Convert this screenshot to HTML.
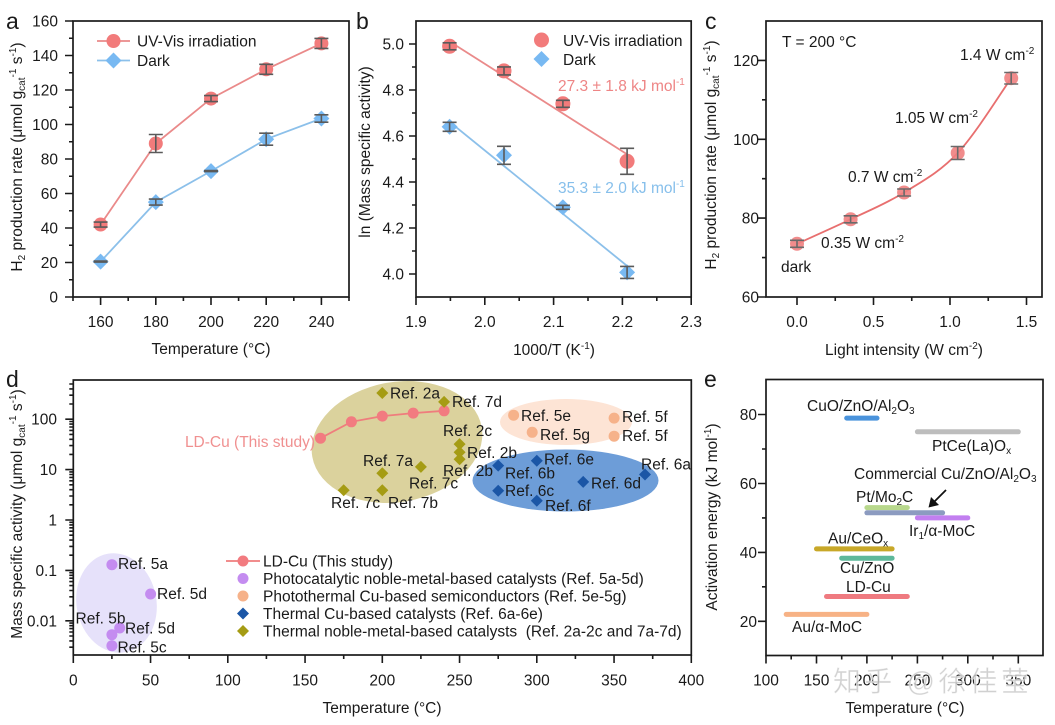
<!DOCTYPE html>
<html><head><meta charset="utf-8"><style>
html,body{margin:0;padding:0;background:#fff;}
svg{display:block;}
</style></head><body>
<svg width="1055" height="725" viewBox="0 0 1055 725" xmlns="http://www.w3.org/2000/svg" font-family="'Liberation Sans', Arial, sans-serif" font-size="15.5" fill="#1a1a1a">
<rect width="1055" height="725" fill="#fff"/>
<defs>
<clipPath id="cd"><rect x="73.3" y="380" width="618" height="275"/></clipPath>
</defs>

<!-- ================= Panel a ================= -->
<text x="6" y="29" font-size="23">a</text>
<polyline points="100.6,224.55 155.8,143.5 211,98.6 266.2,69.3 321.4,43.4" fill="none" stroke="#ea8a8a" stroke-width="1.8"/>
<polyline points="100.6,261.6 155.8,202.1 211,171.1 266.2,139.2 321.4,118.5" fill="none" stroke="#8cc0ea" stroke-width="1.8"/>
<g fill="#f27b7b">
<circle cx="100.6" cy="224.55" r="7"/><circle cx="155.8" cy="143.5" r="7"/><circle cx="211" cy="98.6" r="7"/><circle cx="266.2" cy="69.3" r="7"/><circle cx="321.4" cy="43.4" r="7"/>
</g>
<g fill="#78b9f2">
<polygon points="100.6,253.6 108.6,261.6 100.6,269.6 92.6,261.6"/>
<polygon points="155.8,194.1 163.8,202.1 155.8,210.1 147.8,202.1"/>
<polygon points="211,163.1 219,171.1 211,179.1 203,171.1"/>
<polygon points="266.2,131.2 274.2,139.2 266.2,147.2 258.2,139.2"/>
<polygon points="321.4,110.5 329.4,118.5 321.4,126.5 313.4,118.5"/>
</g>
<path d="M93.6 222.05H107.6M100.6 222.05V227.05M93.6 227.05H107.6M148.8 134.5H162.8M155.8 134.5V152.5M148.8 152.5H162.8M204 95.6H218M211 95.6V101.6M204 101.6H218M259.2 64.3H273.2M266.2 64.3V74.3M259.2 74.3H273.2M314.4 38.4H328.4M321.4 38.4V48.4M314.4 48.4H328.4M93.6 261.1H107.6M93.6 262.1H107.6M148.8 199.1H162.8M155.8 199.1V205.1M148.8 205.1H162.8M204 170.6H218M204 171.6H218M259.2 133.2H273.2M266.2 133.2V145.2M259.2 145.2H273.2M314.4 114.8H328.4M321.4 114.8V122.2M314.4 122.2H328.4" stroke="#5a5a5a" stroke-width="1.6" fill="none"/>
<!-- legend a -->
<line x1="97" y1="41" x2="130" y2="41" stroke="#ea8a8a" stroke-width="1.8"/>
<circle cx="113.5" cy="41" r="7" fill="#f27b7b"/>
<line x1="97" y1="60.5" x2="130" y2="60.5" stroke="#8cc0ea" stroke-width="1.8"/>
<polygon points="113.5,52.5 121.5,60.5 113.5,68.5 105.5,60.5" fill="#78b9f2"/>
<text x="137" y="46.5">UV-Vis irradiation</text>
<text x="137" y="66">Dark</text>
<!-- axes a -->
<rect x="73" y="21" width="276" height="276" fill="none" stroke="#1a1a1a" stroke-width="1.7"/>
<path d="M65 297H73M65 262.5H73M65 228H73M65 193.5H73M65 159H73M65 124.5H73M65 90H73M65 55.5H73M65 21H73M69 279.75H73M69 245.25H73M69 210.75H73M69 176.25H73M69 141.75H73M69 107.25H73M69 72.75H73M69 38.25H73M100.6 297V305M155.8 297V305M211 297V305M266.2 297V305M321.4 297V305M73 297V301M128.2 297V301M183.4 297V301M238.6 297V301M293.8 297V301M349 297V301" stroke="#1a1a1a" stroke-width="1.6"/>
<g text-anchor="end">
<text x="58" y="302.5">0</text><text x="58" y="268">20</text><text x="58" y="233.5">40</text><text x="58" y="199">60</text><text x="58" y="164.5">80</text><text x="58" y="130">100</text><text x="58" y="95.5">120</text><text x="58" y="61">140</text><text x="58" y="26.5">160</text>
</g>
<g text-anchor="middle">
<text x="100.6" y="327">160</text><text x="155.8" y="327">180</text><text x="211" y="327">200</text><text x="266.2" y="327">220</text><text x="321.4" y="327">240</text>
<text x="211" y="354">Temperature (°C)</text>
</g>
<text transform="translate(22,157) rotate(-90)" text-anchor="middle">H<tspan font-size="10" dy="3">2</tspan><tspan dy="-3"> production rate (μmol g</tspan><tspan font-size="10" dy="3">cat</tspan><tspan font-size="10" dy="-9">-1</tspan><tspan dy="6"> s</tspan><tspan font-size="10" dy="-6">-1</tspan><tspan dy="6">)</tspan></text>

<!-- ================= Panel b ================= -->
<text x="356" y="29" font-size="23">b</text>
<line x1="450" y1="41.7" x2="627.2" y2="154.4" stroke="#ea8a8a" stroke-width="1.8"/>
<line x1="450" y1="122.2" x2="627.2" y2="266" stroke="#8cc0ea" stroke-width="1.8"/>
<g fill="#f27b7b">
<circle cx="449.6" cy="46.3" r="7.5"/><circle cx="504" cy="70.9" r="7.5"/><circle cx="562.9" cy="103.8" r="7.5"/><circle cx="627.1" cy="161.3" r="7.5"/>
</g>
<g fill="#78b9f2">
<polygon points="449.6,118.8 457.6,126.8 449.6,134.8 441.6,126.8"/>
<polygon points="504,147.3 512,155.3 504,163.3 496,155.3"/>
<polygon points="562.9,199.3 570.9,207.3 562.9,215.3 554.9,207.3"/>
<polygon points="627.1,264.4 635.1,272.4 627.1,280.4 619.1,272.4"/>
</g>
<path d="M442.6 42.8H456.6M449.6 42.8V49.8M442.6 49.8H456.6M497 66.9H511M504 66.9V74.9M497 74.9H511M555.9 100.3H569.9M562.9 100.3V107.3M555.9 107.3H569.9M620.1 148.3H634.1M627.1 148.3V174.3M620.1 174.3H634.1M442.6 122.3H456.6M449.6 122.3V131.3M442.6 131.3H456.6M497 146.3H511M504 146.3V164.3M497 164.3H511M555.9 205.3H569.9M562.9 205.3V209.3M555.9 209.3H569.9M620.1 266.4H634.1M627.1 266.4V278.4M620.1 278.4H634.1" stroke="#5a5a5a" stroke-width="1.6" fill="none"/>
<circle cx="541.5" cy="40" r="7.5" fill="#f27b7b"/>
<polygon points="541.5,51 549.5,59 541.5,67 533.5,59" fill="#78b9f2"/>
<text x="563" y="46">UV-Vis irradiation</text>
<text x="563" y="65">Dark</text>
<text x="558" y="91" fill="#ee8585">27.3 ± 1.8 kJ mol<tspan font-size="10" dy="-6">-1</tspan></text>
<text x="558" y="193" fill="#86bfeb">35.3 ± 2.0 kJ mol<tspan font-size="10" dy="-6">-1</tspan></text>
<rect x="416" y="21" width="275.2" height="276" fill="none" stroke="#1a1a1a" stroke-width="1.7"/>
<path d="M409 274H416M409 228H416M409 182H416M409 136H416M409 90H416M409 44H416M412 251H416M412 205H416M412 159H416M412 113H416M412 67H416M416 297V305M484.8 297V305M553.6 297V305M622.4 297V305M691.2 297V305M450.4 297V301M519.2 297V301M588 297V301M656.8 297V301" stroke="#1a1a1a" stroke-width="1.6"/>
<g text-anchor="end">
<text x="404" y="279.5">4.0</text><text x="404" y="233.5">4.2</text><text x="404" y="187.5">4.4</text><text x="404" y="141.5">4.6</text><text x="404" y="95.5">4.8</text><text x="404" y="49.5">5.0</text>
</g>
<g text-anchor="middle">
<text x="416" y="327">1.9</text><text x="484.8" y="327">2.0</text><text x="553.6" y="327">2.1</text><text x="622.4" y="327">2.2</text><text x="691.2" y="327">2.3</text>
<text x="554" y="355">1000/T (K<tspan font-size="10" dy="-6">-1</tspan><tspan dy="6">)</tspan></text>
</g>
<text transform="translate(370,152) rotate(-90)" text-anchor="middle">ln (Mass specific activity)</text>

<!-- ================= Panel c ================= -->
<text x="705" y="29" font-size="23">c</text>
<path d="M797 243.8C805.9 239.7 832.75 227.85 850.6 219.3C868.45 210.75 886.25 203.55 904.1 192.5C921.95 181.45 939.85 172.05 957.7 153C975.55 133.95 1002.3 90.67 1011.2 78.2" fill="none" stroke="#e86f6f" stroke-width="1.8"/>
<g fill="#f08080" fill-opacity="0.9">
<circle cx="797" cy="243.8" r="7"/><circle cx="850.6" cy="219.3" r="7"/><circle cx="904.1" cy="192.5" r="7"/><circle cx="957.7" cy="153" r="7"/><circle cx="1011.2" cy="78.2" r="7"/>
</g>
<path d="M790 240.3H804M797 240.3V247.3M790 247.3H804M843.6 215.8H857.6M850.6 215.8V222.8M843.6 222.8H857.6M897.1 189H911.1M904.1 189V196M897.1 196H911.1M950.7 146.5H964.7M957.7 146.5V159.5M950.7 159.5H964.7M1004.2 72.5H1018.2M1011.2 72.5V84M1004.2 84H1018.2" stroke="#6a6a6a" stroke-width="1.6" fill="none"/>
<text x="782" y="47">T = 200 °C</text>
<text x="960" y="60">1.4 W cm<tspan font-size="10" dy="-6">-2</tspan></text>
<text x="895" y="123">1.05 W cm<tspan font-size="10" dy="-6">-2</tspan></text>
<text x="848" y="182">0.7 W cm<tspan font-size="10" dy="-6">-2</tspan></text>
<text x="821" y="248">0.35 W cm<tspan font-size="10" dy="-6">-2</tspan></text>
<text x="781" y="272">dark</text>
<rect x="766" y="21" width="276" height="276" fill="none" stroke="#1a1a1a" stroke-width="1.7"/>
<path d="M758 297H766M758 218.1H766M758 139.3H766M758 60.4H766M762 257.6H766M762 178.7H766M762 99.8H766M797 297V305M873.5 297V305M950 297V305M1026.5 297V305M835.25 297V301M911.75 297V301M988.25 297V301" stroke="#1a1a1a" stroke-width="1.6"/>
<g text-anchor="end">
<text x="759" y="302.5">60</text><text x="759" y="223.6">80</text><text x="759" y="144.8">100</text><text x="759" y="65.9">120</text>
</g>
<g text-anchor="middle">
<text x="797" y="327">0.0</text><text x="873.5" y="327">0.5</text><text x="950" y="327">1.0</text><text x="1026.5" y="327">1.5</text>
<text x="904" y="355">Light intensity (W cm<tspan font-size="10" dy="-6">-2</tspan><tspan dy="6">)</tspan></text>
</g>
<text transform="translate(716,155) rotate(-90)" text-anchor="middle">H<tspan font-size="10" dy="3">2</tspan><tspan dy="-3"> production rate (μmol g</tspan><tspan font-size="10" dy="3">cat</tspan><tspan font-size="10" dy="-9">-1</tspan><tspan dy="6"> s</tspan><tspan font-size="10" dy="-6">-1</tspan><tspan dy="6">)</tspan></text>

<!-- ================= Panel d ================= -->
<text x="6" y="387" font-size="23">d</text>
<g clip-path="url(#cd)">
<ellipse cx="397" cy="442" rx="86" ry="60" transform="rotate(-10 397 442)" fill="#dbd29d"/>
<ellipse cx="566" cy="422" rx="66" ry="23" fill="#fde4d5"/>
<ellipse cx="565.5" cy="480.5" rx="93" ry="31" fill="#6d9dd8"/>
<ellipse cx="116.5" cy="603" rx="40" ry="50" transform="rotate(-10 116.5 603)" fill="#e6e1fa"/>
</g>
<polyline points="320.5,438.2 351.4,421.8 382.3,416.1 413.2,413.1 444.1,410.8" fill="none" stroke="#ef7d7d" stroke-width="1.8"/>
<g fill="#f27b80">
<circle cx="320.5" cy="438.2" r="5.5"/><circle cx="351.4" cy="421.8" r="5.5"/><circle cx="382.3" cy="416.1" r="5.5"/><circle cx="413.2" cy="413.1" r="5.5"/><circle cx="444.1" cy="410.8" r="5.5"/>
</g>
<g fill="#c48cf0">
<circle cx="111.9" cy="564.7" r="5.5"/><circle cx="150.6" cy="594" r="5.5"/><circle cx="119.7" cy="628" r="5.5"/><circle cx="111.9" cy="634.7" r="5.5"/><circle cx="111.9" cy="645.7" r="5.5"/>
</g>
<g fill="#f6b28a">
<circle cx="513.6" cy="415.2" r="5.5"/><circle cx="532.2" cy="432.3" r="5.5"/><circle cx="614.1" cy="418.1" r="5.5"/><circle cx="614.1" cy="436.2" r="5.5"/>
</g>
<g fill="#1b56a6">
<polygon points="498.2,459.6 504.2,465.6 498.2,471.6 492.2,465.6"/>
<polygon points="536.8,454.7 542.8,460.7 536.8,466.7 530.8,460.7"/>
<polygon points="645,468.5 651,474.5 645,480.5 639,474.5"/>
<polygon points="583.2,475.9 589.2,481.9 583.2,487.9 577.2,481.9"/>
<polygon points="498.2,484.8 504.2,490.8 498.2,496.8 492.2,490.8"/>
<polygon points="536.8,494.8 542.8,500.8 536.8,506.8 530.8,500.8"/>
</g>
<g fill="#a59c14">
<polygon points="382.3,387 388.3,393 382.3,399 376.3,393"/>
<polygon points="444.1,395.9 450.1,401.9 444.1,407.9 438.1,401.9"/>
<polygon points="459.6,438.1 465.6,444.1 459.6,450.1 453.6,444.1"/>
<polygon points="459.6,446.3 465.6,452.3 459.6,458.3 453.6,452.3"/>
<polygon points="459.6,453.3 465.6,459.3 459.6,465.3 453.6,459.3"/>
<polygon points="382.3,467.2 388.3,473.2 382.3,479.2 376.3,473.2"/>
<polygon points="420.9,460.9 426.9,466.9 420.9,472.9 414.9,466.9"/>
<polygon points="382.3,484.2 388.3,490.2 382.3,496.2 376.3,490.2"/>
<polygon points="343.7,484.2 349.7,490.2 343.7,496.2 337.7,490.2"/>
</g>
<text x="315" y="447" text-anchor="end" fill="#f09090">LD-Cu (This study)</text>
<text x="118" y="569">Ref. 5a</text>
<text x="157" y="599">Ref. 5d</text>
<text x="125" y="633.5">Ref. 5d</text>
<text x="75.5" y="623.5">Ref. 5b</text>
<text x="117.5" y="652.5">Ref. 5c</text>
<text x="521" y="421">Ref. 5e</text>
<text x="540" y="440">Ref. 5g</text>
<text x="622" y="422">Ref. 5f</text>
<text x="622" y="441">Ref. 5f</text>
<text x="505" y="478.5">Ref. 6b</text>
<text x="544" y="464.5">Ref. 6e</text>
<text x="641" y="469.5">Ref. 6a</text>
<text x="591" y="488.5">Ref. 6d</text>
<text x="505" y="496">Ref. 6c</text>
<text x="545" y="511">Ref. 6f</text>
<text x="390" y="398.5">Ref. 2a</text>
<text x="452" y="407">Ref. 7d</text>
<text x="443" y="436">Ref. 2c</text>
<text x="467" y="458">Ref. 2b</text>
<text x="443" y="476">Ref. 2b</text>
<text x="363" y="466">Ref. 7a</text>
<text x="409" y="488.5">Ref. 7c</text>
<text x="388" y="508">Ref. 7b</text>
<text x="331" y="508">Ref. 7c</text>
<!-- legend d -->
<line x1="226" y1="561" x2="260" y2="561" stroke="#ef7d7d" stroke-width="1.8"/>
<circle cx="243" cy="561" r="5.5" fill="#f27b80"/>
<circle cx="243" cy="578.5" r="5.5" fill="#c48cf0"/>
<circle cx="243" cy="596" r="5.5" fill="#f6b28a"/>
<polygon points="243,607.5 249,613.5 243,619.5 237,613.5" fill="#1b56a6"/>
<polygon points="243,625 249,631 243,637 237,631" fill="#a59c14"/>
<text x="263" y="566.5">LD-Cu (This study)</text>
<text x="263" y="584">Photocatalytic noble-metal-based catalysts (Ref. 5a-5d)</text>
<text x="263" y="601.5">Photothermal Cu-based semiconductors (Ref. 5e-5g)</text>
<text x="263" y="619">Thermal Cu-based catalysts (Ref. 6a-6e)</text>
<text x="263" y="636.5" xml:space="preserve">Thermal noble-metal-based catalysts  (Ref. 2a-2c and 7a-7d)</text>
<!-- axes d -->
<rect x="73.3" y="380" width="618" height="275" fill="none" stroke="#1a1a1a" stroke-width="1.7"/>
<path d="M65.3 620.8H73.3M65.3 570.4H73.3M65.3 520H73.3M65.3 469.6H73.3M65.3 419.2H73.3M69.3 647.2H73.3M69.3 640.9H73.3M69.3 636H73.3M69.3 632H73.3M69.3 628.6H73.3M69.3 625.7H73.3M69.3 623.1H73.3M69.3 605.6H73.3M69.3 596.8H73.3M69.3 590.5H73.3M69.3 585.6H73.3M69.3 581.6H73.3M69.3 578.2H73.3M69.3 575.3H73.3M69.3 572.7H73.3M69.3 555.2H73.3M69.3 546.4H73.3M69.3 540.1H73.3M69.3 535.2H73.3M69.3 531.2H73.3M69.3 527.8H73.3M69.3 524.9H73.3M69.3 522.3H73.3M69.3 504.8H73.3M69.3 496H73.3M69.3 489.7H73.3M69.3 484.8H73.3M69.3 480.8H73.3M69.3 477.4H73.3M69.3 474.5H73.3M69.3 471.9H73.3M69.3 454.4H73.3M69.3 445.6H73.3M69.3 439.3H73.3M69.3 434.4H73.3M69.3 430.4H73.3M69.3 427H73.3M69.3 424.1H73.3M69.3 421.5H73.3M69.3 404H73.3M69.3 395.2H73.3M69.3 388.9H73.3M69.3 384H73.3M73.3 655V663M150.55 655V663M227.8 655V663M305.05 655V663M382.3 655V663M459.55 655V663M536.8 655V663M614.05 655V663M691.3 655V663M111.9 655V659M189.2 655V659M266.4 655V659M343.7 655V659M420.9 655V659M498.2 655V659M575.4 655V659M652.7 655V659" stroke="#1a1a1a" stroke-width="1.6"/>
<g text-anchor="end">
<text x="57" y="424.7">100</text><text x="57" y="475.1">10</text><text x="57" y="525.5">1</text><text x="57" y="575.9">0.1</text><text x="57" y="626.3">0.01</text>
</g>
<g text-anchor="middle">
<text x="73.3" y="685.5">0</text><text x="150.55" y="685.5">50</text><text x="227.8" y="685.5">100</text><text x="305.05" y="685.5">150</text><text x="382.3" y="685.5">200</text><text x="459.55" y="685.5">250</text><text x="536.8" y="685.5">300</text><text x="614.05" y="685.5">350</text><text x="691.3" y="685.5">400</text>
<text x="382" y="713">Temperature (°C)</text>
</g>
<text transform="translate(22,514) rotate(-90)" text-anchor="middle">Mass specific activity (μmol g<tspan font-size="10" dy="3">cat</tspan><tspan font-size="10" dy="-9">-1</tspan><tspan dy="6"> s</tspan><tspan font-size="10" dy="-6">-1</tspan><tspan dy="6">)</tspan></text>

<!-- ================= Panel e ================= -->
<text x="704" y="387" font-size="23">e</text>
<g stroke-width="5" stroke-linecap="round">
<line x1="846.7" y1="418.1" x2="877" y2="418.1" stroke="#4a93dc"/>
<line x1="917.4" y1="431.8" x2="1018.3" y2="431.8" stroke="#bdbdbd"/>
<line x1="866.9" y1="507.6" x2="907.3" y2="507.6" stroke="#b8d88c"/>
<line x1="866.9" y1="512.8" x2="942.6" y2="512.8" stroke="#8c9bc0"/>
<line x1="917.4" y1="517.9" x2="967.8" y2="517.9" stroke="#c27ff0"/>
<line x1="816.5" y1="548.9" x2="892.1" y2="548.9" stroke="#c8a828"/>
<line x1="841.7" y1="558.2" x2="892.1" y2="558.2" stroke="#5db89a"/>
<line x1="826.5" y1="596.5" x2="907.3" y2="596.5" stroke="#ef7a80"/>
<line x1="786.2" y1="614.4" x2="866.9" y2="614.4" stroke="#f7b285"/>
</g>
<text x="807" y="411">CuO/ZnO/Al<tspan font-size="10" dy="3">2</tspan><tspan dy="-3">O</tspan><tspan font-size="10" dy="3">3</tspan></text>
<text x="932" y="451">PtCe(La)O<tspan font-size="10" dy="3">x</tspan></text>
<text x="854" y="479">Commercial Cu/ZnO/Al<tspan font-size="10" dy="3">2</tspan><tspan dy="-3">O</tspan><tspan font-size="10" dy="3">3</tspan></text>
<text x="856" y="502">Pt/Mo<tspan font-size="10" dy="3">2</tspan><tspan dy="-3">C</tspan></text>
<text x="909" y="536">Ir<tspan font-size="10" dy="3">1</tspan><tspan dy="-3">/α-MoC</tspan></text>
<text x="828" y="543.5">Au/CeO<tspan font-size="10" dy="3">x</tspan></text>
<text x="840" y="573">Cu/ZnO</text>
<text x="846" y="592">LD-Cu</text>
<text x="792" y="632">Au/α-MoC</text>
<line x1="946" y1="490" x2="933" y2="503" stroke="#111" stroke-width="1.8"/>
<polygon points="928.5,507.5 931,497 939,505" fill="#111"/>
<rect x="766" y="379.5" width="277" height="276" fill="none" stroke="#1a1a1a" stroke-width="1.7"/>
<path d="M758 621.3H766M758 552.4H766M758 483.5H766M758 414.5H766M762 586.8H766M762 517.9H766M762 449H766M766 655.5V663.5M816.5 655.5V663.5M866.9 655.5V663.5M917.4 655.5V663.5M967.8 655.5V663.5M1018.3 655.5V663.5M791.2 655.5V659.5M841.7 655.5V659.5M892.1 655.5V659.5M942.6 655.5V659.5M993 655.5V659.5" stroke="#1a1a1a" stroke-width="1.6"/>
<g text-anchor="end">
<text x="757" y="626.8">20</text><text x="757" y="557.9">40</text><text x="757" y="489">60</text><text x="757" y="420">80</text>
</g>
<g text-anchor="middle">
<text x="766" y="685.5">100</text><text x="816.5" y="685.5">150</text><text x="866.9" y="685.5">200</text><text x="917.4" y="685.5">250</text><text x="967.8" y="685.5">300</text><text x="1018.3" y="685.5">350</text>
<text x="905" y="713">Temperature (°C)</text>
</g>
<text transform="translate(717,517) rotate(-90)" text-anchor="middle">Activation energy (kJ mol<tspan font-size="10" dy="-6">-1</tspan><tspan dy="6">)</tspan></text>
<!-- watermark -->
<text x="833" y="691" font-size="28" font-family="'Liberation Sans','Noto Sans CJK SC','WenQuanYi Zen Hei',sans-serif" fill="#c8c8c8" fill-opacity="0.85" stroke="#ffffff" stroke-width="0.8" stroke-opacity="0.6" textLength="196">知乎 @徐佳莹</text>
</svg>
</body></html>
